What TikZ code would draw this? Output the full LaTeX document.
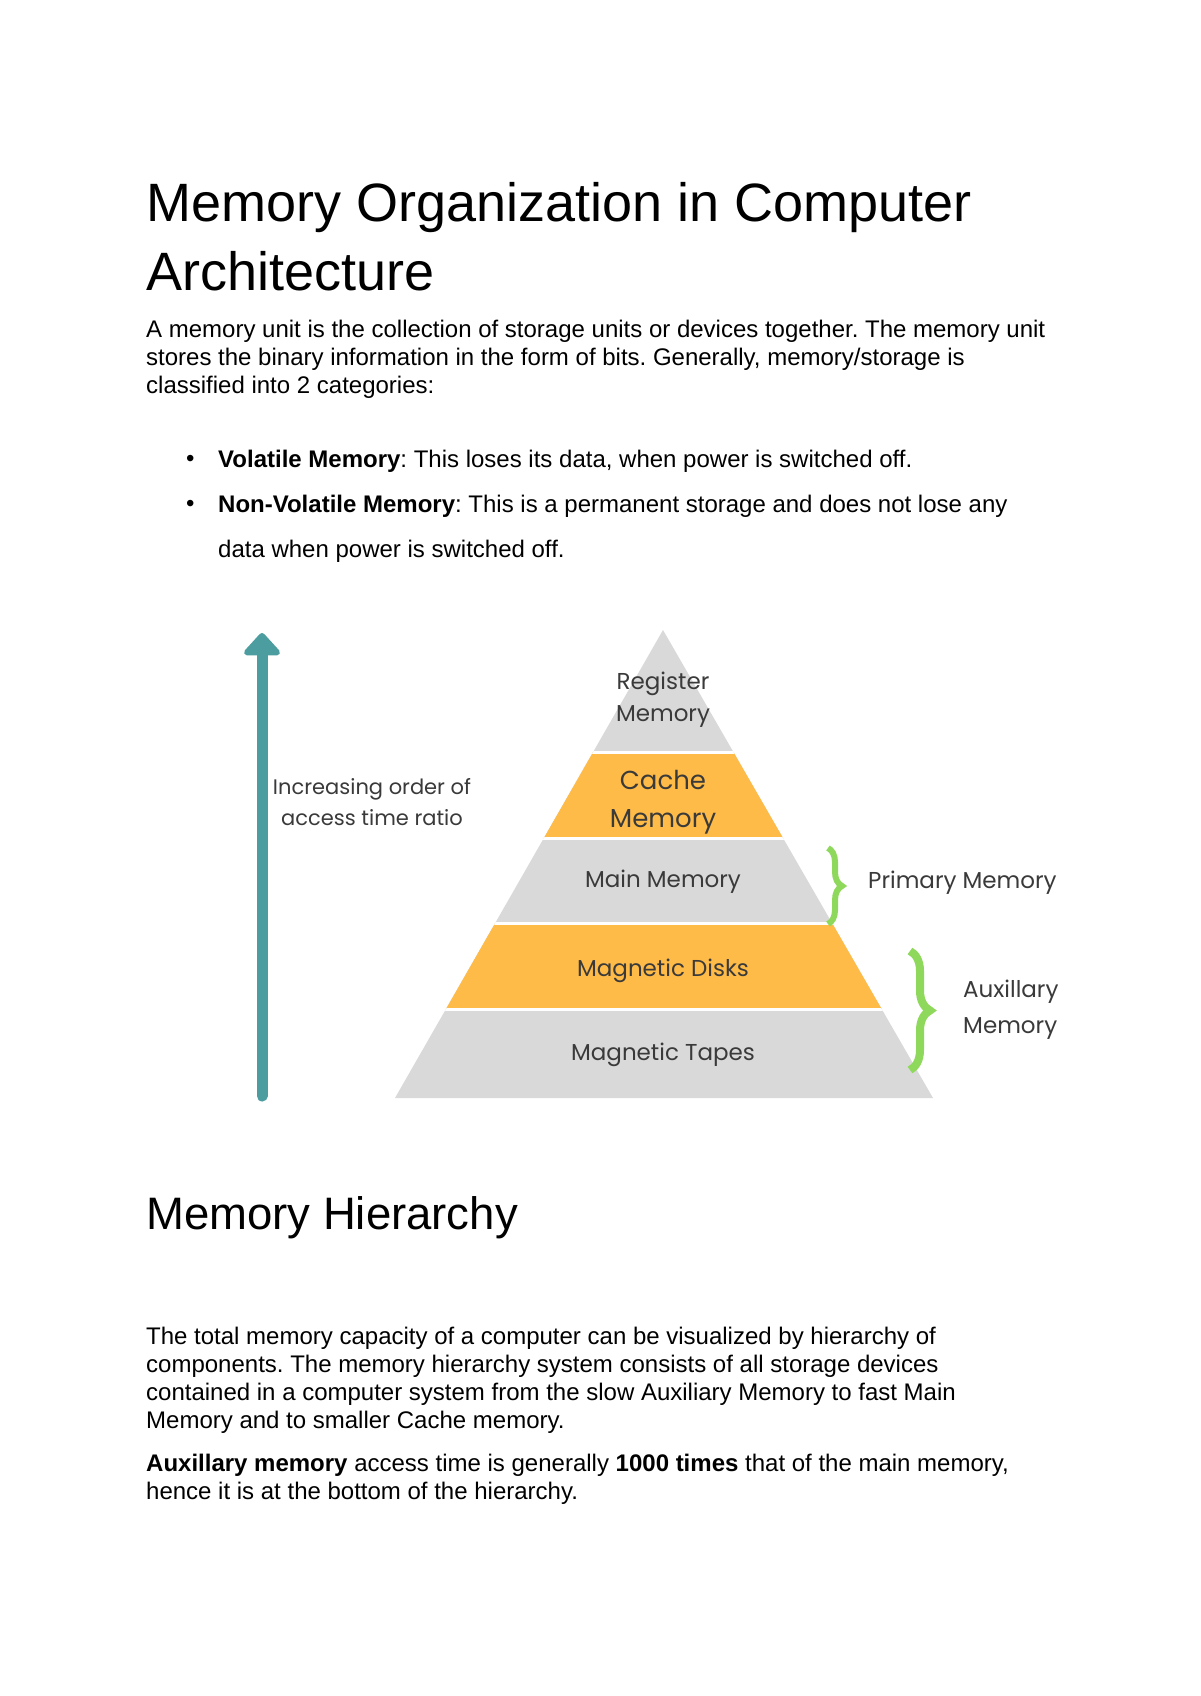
\documentclass[tikz,border=0pt]{standalone}
\usepackage{fontspec}
\setmainfont{Liberation Sans}
\newfontfamily\pop{Poppins}
\usetikzlibrary{decorations.pathreplacing,arrows.meta}
\definecolor{pgray}{HTML}{D9D9D9}
\definecolor{porange}{HTML}{FFBB47}
\definecolor{pteal}{HTML}{4C9DA0}
\definecolor{pgreen}{HTML}{8ED85B}
\definecolor{ptext}{HTML}{3A3A3A}
\tikzset{
 body/.style={anchor=west,inner sep=0pt,font=\frenchspacing\fontsize{24}{28}\selectfont},
 head/.style={anchor=west,inner sep=0pt,font=\fontsize{54}{60}\selectfont},
 plab/.style={inner sep=0pt,text=ptext,font=\pop\fontsize{23}{28}\selectfont},
 plabb/.style={inner sep=0pt,text=ptext,font=\pop\fontsize{26}{30}\selectfont},
 gbrace/.style={draw=pgreen,line width=6pt,decorate,decoration={brace,amplitude=14pt}},
}
\begin{document}
\begin{tikzpicture}[x=1pt,y=-1pt]
\useasboundingbox (0,0) rectangle (1200,1696);
\fill[white] (0,0) rectangle (1200,1696);
\node[head] (t1) at (146,208) {Memory Organization in Computer};
\node[head] (t2) at (146,271) {Architecture};
\node[body] (p1) at (146,331) {A memory unit is the collection of storage units or devices together. The memory unit};
\node[body] (p2) at (146,359) {stores the binary information in the form of bits. Generally, memory/storage is};
\node[body] (p3) at (146,387) {classified into 2 categories:};
\node[body] (b1) at (186,461) {\textbullet};
\node[body] (l1) at (218,461) {\textbf{Volatile Memory}: This loses its data, when power is switched off.};
\node[body] (b2) at (186,506) {\textbullet};
\node[body] (l2) at (218,506) {\textbf{Non-Volatile Memory}: This is a permanent storage and does not lose any};
\node[body] (l3) at (218,551) {data when power is switched off.};
% arrow
\coordinate (ab) at (262,1096);
\coordinate (at) at (262,633);
\draw[pteal,line width=11pt,line cap=round,-{Triangle[length=24pt,width=42pt,round]}] (ab) -- (at);
\node[plab,align=center,font=\pop\fontsize{21}{26}\selectfont] (inc) at (372,802) {Increasing order of\\[5pt]access time ratio};
% pyramid
\coordinate (apex) at (663,630);
\coordinate (bl) at (395,1098);
\coordinate (br) at (933,1098);
\fill[pgray] (apex) -- (bl) -- (br) -- cycle;
\begin{scope}
\clip (apex) -- (bl) -- (br) -- cycle;
\fill[porange] (300,752) rectangle (1000,838);
\fill[porange] (300,923) rectangle (1000,1009);
\foreach \yy in {752,838,923,1009}{\draw[white,line width=3pt] (300,\yy) -- (1000,\yy);}
\end{scope}
\node[plab,align=center] (reg) at (663,700) {Register\\[4pt]Memory};
\node[plabb,align=center] (cache) at (663,802) {Cache\\[8pt]Memory};
\node[plab] (main) at (663,882) {Main Memory};
\node[plab] (disk) at (663,971) {Magnetic Disks};
\node[plab] (tape) at (663,1055) {Magnetic Tapes};
% braces
\coordinate (pb1) at (828,848);
\coordinate (pb2) at (828,924);
\draw[gbrace] (pb1) -- (pb2);
\coordinate (ab1) at (910,951);
\coordinate (ab2) at (910,1070);
\draw[gbrace,line width=8pt,decoration={amplitude=20pt}] (ab1) -- (ab2);
\node[plab,anchor=west] (prim) at (868,883) {Primary Memory};
\node[plab,anchor=west,align=left] (aux) at (963,1010) {Auxillary\\[8pt]Memory};
% section 2
\node[head,font=\fontsize{45.5}{52}\selectfont] (h2) at (146,1218) {Memory Hierarchy};
\node[body] (q1) at (146,1338) {The total memory capacity of a computer can be visualized by hierarchy of};
\node[body] (q2) at (146,1366) {components. The memory hierarchy system consists of all storage devices};
\node[body] (q3) at (146,1394) {contained in a computer system from the slow Auxiliary Memory to fast Main};
\node[body] (q4) at (146,1422) {Memory and to smaller Cache memory.};
\node[body] (r1) at (146,1465) {\textbf{Auxillary memory} access time is generally \textbf{1000 times} that of the main memory,};
\node[body] (r2) at (146,1493) {hence it is at the bottom of the hierarchy.};
\end{tikzpicture}
\end{document}
